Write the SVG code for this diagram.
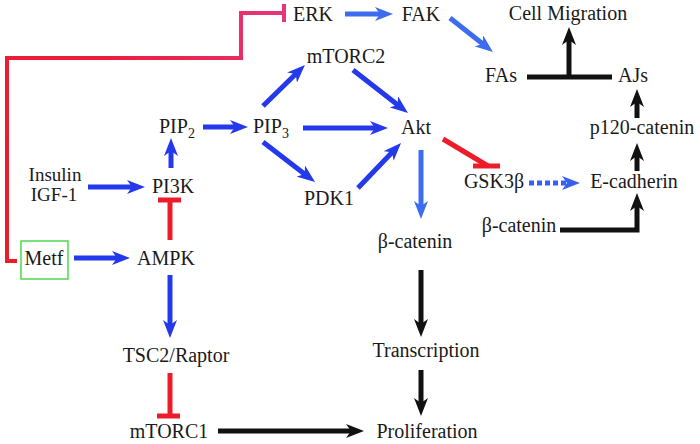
<svg xmlns="http://www.w3.org/2000/svg" width="700" height="444" viewBox="0 0 700 444" font-family="Liberation Serif, Times New Roman, serif">
<defs>
<marker id="ahD" viewBox="0 0 18 14" markerWidth="18" markerHeight="14" refX="8" refY="7" markerUnits="userSpaceOnUse" orient="auto"><path d="M0,0 L18,7 L0,14 L5,7 z" fill="#2438ec"/></marker>
<marker id="ahL" viewBox="0 0 18 14" markerWidth="18" markerHeight="14" refX="8" refY="7" markerUnits="userSpaceOnUse" orient="auto"><path d="M0,0 L18,7 L0,14 L5,7 z" fill="#3d6cf0"/></marker>
<marker id="ahM" viewBox="0 0 18 14" markerWidth="18" markerHeight="14" refX="8" refY="7" markerUnits="userSpaceOnUse" orient="auto"><path d="M0,0 L18,7 L0,14 L5,7 z" fill="#3560f0"/></marker>
<marker id="ahK" viewBox="0 0 18 14" markerWidth="18" markerHeight="14" refX="8" refY="7" markerUnits="userSpaceOnUse" orient="auto"><path d="M0,0 L18,7 L0,14 L5,7 z" fill="#111"/></marker>
<linearGradient id="rg" gradientUnits="userSpaceOnUse" x1="7" y1="261" x2="284" y2="13"><stop offset="0" stop-color="#ec1c2a"/><stop offset="0.55" stop-color="#ec1c3a"/><stop offset="1" stop-color="#e8357a"/></linearGradient>
</defs>
<g id="connectors" fill="none" stroke-width="5">
<path d="M17,261 H7 V58 H241 V13 H284" stroke="url(#rg)" stroke-width="4"/>
<line x1="284" y1="4" x2="284" y2="22" stroke="#e8357a" stroke-width="4"/>
<g stroke="#3d6cf0" marker-end="url(#ahL)">
<line x1="345" y1="14" x2="383" y2="14"/>
<line x1="450" y1="18" x2="485.1" y2="45.8"/>
<line x1="421" y1="150" x2="421" y2="209"/>
</g>
<g stroke="#2438ec" marker-end="url(#ahD)">
<line x1="263" y1="106" x2="297.8" y2="72"/>
<line x1="353" y1="70" x2="400.1" y2="106.8"/>
<line x1="303" y1="128" x2="378" y2="128"/>
<line x1="263" y1="142" x2="307.1" y2="175.9"/>
<line x1="358" y1="188" x2="394.1" y2="150.2"/>
<line x1="203" y1="127" x2="238" y2="127"/>
<line x1="171" y1="168" x2="171" y2="148"/>
<line x1="88" y1="187" x2="135" y2="187"/>
<line x1="74" y1="258" x2="120" y2="258"/>
<line x1="170" y1="275" x2="170" y2="328"/>
</g>
<line x1="529" y1="183" x2="570" y2="183" stroke="#3560f0" stroke-dasharray="5 3" marker-end="url(#ahM)"/>
<line x1="527" y1="77" x2="612" y2="77" stroke="#111"/>
<g stroke="#111" marker-end="url(#ahK)">
<line x1="569" y1="77" x2="569" y2="37"/>
<line x1="637" y1="118" x2="637" y2="99"/>
<line x1="637" y1="171" x2="637" y2="153"/>
<path d="M560,230 H637 V203"/>
<line x1="421" y1="270" x2="421" y2="327"/>
<line x1="421" y1="370" x2="421" y2="406"/>
<line x1="218" y1="431" x2="354" y2="431"/>
</g>
<g stroke="#ec1c2a">
<line x1="170" y1="240" x2="170" y2="200"/>
<line x1="158" y1="200" x2="181" y2="200"/>
<line x1="170" y1="373" x2="170" y2="416"/>
<line x1="157" y1="416" x2="180" y2="416"/>
<line x1="443" y1="139" x2="488" y2="166"/>
<line x1="473" y1="166" x2="500" y2="166"/>
</g>
</g>
<g font-family="Liberation Serif, Times New Roman, serif" font-size="20" fill="#1a1a1a" text-anchor="middle">
<g id="ERK"><text x="313" y="21" font-family="Liberation Serif">ERK</text></g>
<g id="FAK"><text x="421" y="21" font-family="Liberation Serif">FAK</text></g>
<g id="CellMigration"><text x="568" y="20" font-family="Liberation Serif">Cell Migration</text></g>
<g id="mTORC2"><text x="346" y="63" font-family="Liberation Serif">mTORC2</text></g>
<g id="FAs"><text x="501" y="82" font-family="Liberation Serif">FAs</text></g>
<g id="AJs"><text x="633" y="82" font-family="Liberation Serif">AJs</text></g>
<g id="PIP2"><text x="159" y="133" font-family="Liberation Serif" text-anchor="start">PIP<tspan font-size="14" dy="5">2</tspan></text></g>
<g id="PIP3"><text x="253" y="133" font-family="Liberation Serif" text-anchor="start">PIP<tspan font-size="14" dy="5">3</tspan></text></g>
<g id="Akt"><text x="416" y="134" font-family="Liberation Serif">Akt</text></g>
<g id="p120"><text x="642" y="134" font-family="Liberation Serif">p120-catenin</text></g>
<g id="Insulin"><text x="55" y="181" font-family="Liberation Serif" font-size="19">Insulin</text><text x="54" y="201" font-family="Liberation Serif" font-size="19">IGF-1</text></g>
<g id="PI3K"><text x="173" y="193" font-family="Liberation Serif">PI3K</text></g>
<g id="PDK1"><text x="329" y="205" font-family="Liberation Serif">PDK1</text></g>
<g id="GSK3b"><text x="494" y="188" font-family="Liberation Serif">GSK3β</text></g>
<g id="Ecadherin"><text x="634" y="188" font-family="Liberation Serif">E-cadherin</text></g>
<g id="bcatR"><text x="519" y="232" font-family="Liberation Serif">β-catenin</text></g>
<g id="bcatL"><text x="415" y="248" font-family="Liberation Serif">β-catenin</text></g>
<g id="Metf"><rect x="21" y="241" width="47" height="38" fill="none" stroke="#4cd94c" stroke-width="1.5"/><text x="44" y="265" font-family="Liberation Serif">Metf</text></g>
<g id="AMPK"><text x="166" y="265" font-family="Liberation Serif">AMPK</text></g>
<g id="TSC2"><text x="176" y="362" font-family="Liberation Serif">TSC2/Raptor</text></g>
<g id="mTORC1"><text x="169" y="438" font-family="Liberation Serif">mTORC1</text></g>
<g id="Transcription"><text x="426" y="357" font-family="Liberation Serif">Transcription</text></g>
<g id="Proliferation"><text x="427" y="438" font-family="Liberation Serif">Proliferation</text></g>
</g>
</svg>
